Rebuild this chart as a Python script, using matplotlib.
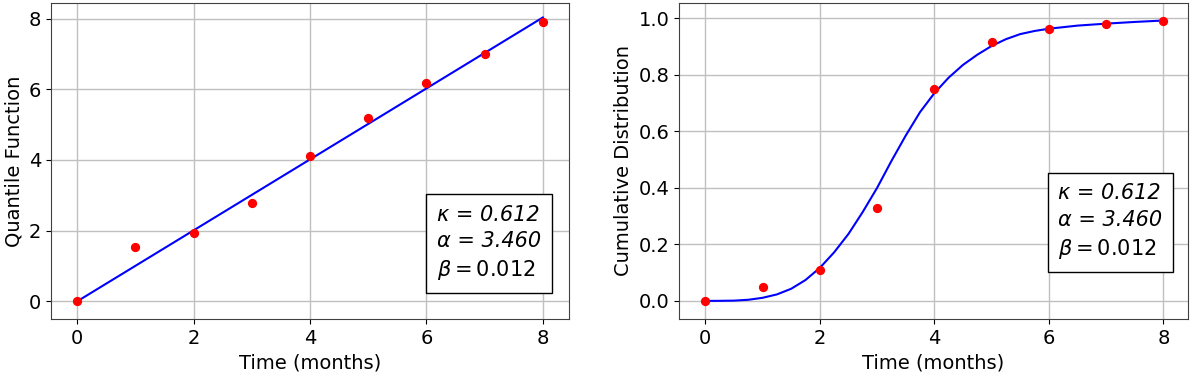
import matplotlib
matplotlib.use('Agg')
import matplotlib.pyplot as plt
from matplotlib.offsetbox import AnchoredOffsetbox, TextArea, VPacker

# data
months = [0, 1, 2, 3, 4, 5, 6, 7, 8]
quantile_obs = [0.0, 1.54, 1.92, 2.78, 4.10, 5.18, 6.17, 6.99, 7.91]
quantile_fit_t = [0, 8]
quantile_fit = [0.0, 8.03]

cdf_obs = [0.0, 0.048, 0.11, 0.33, 0.75, 0.916, 0.963, 0.98, 0.992]
cdf_fit_t = [0, 0.25, 0.5, 0.75, 1.0, 1.25, 1.5, 1.75, 2.0, 2.25, 2.5, 2.75,
             3.0, 3.25, 3.5, 3.75, 4.0, 4.25, 4.5, 4.75, 5.0, 5.25, 5.5,
             5.75, 6.0, 6.5, 7.0, 7.5, 8.0]
cdf_fit = [0.0, 0.0003, 0.001, 0.004, 0.011, 0.023, 0.043, 0.074, 0.117,
           0.172, 0.237, 0.315, 0.400, 0.495, 0.585, 0.668, 0.735, 0.790,
           0.835, 0.871, 0.902, 0.926, 0.944, 0.955, 0.963, 0.974, 0.981,
           0.987, 0.992]

param_lines = ['κ = 0.612', 'α = 3.460', '$\\beta = 0.012$']

plt.rcParams['font.size'] = 14


def param_box(ax, x, y):
    # κ and α lines in oblique, β in mathtext like the original
    rows = []
    for i, s in enumerate(param_lines):
        style = 'italic' if i < 2 else 'normal'
        rows.append(TextArea(s, textprops=dict(fontsize=15, fontstyle=style)))
    pack = VPacker(children=rows, align='left', pad=0, sep=5)
    box = AnchoredOffsetbox(loc='lower right', child=pack, pad=0.55,
                            borderpad=0, frameon=True,
                            bbox_to_anchor=(x, y),
                            bbox_transform=ax.transAxes)
    box.patch.set_boxstyle('square', pad=0)
    box.patch.set_edgecolor('black')
    box.patch.set_linewidth(1)
    box.zorder = 5
    ax.add_artist(box)


fig = plt.figure(figsize=(12, 3.73), dpi=100)
ax1 = fig.add_axes([51 / 1200, 1 - 319 / 373, 518 / 1200, 316 / 373])
ax2 = fig.add_axes([679 / 1200, 1 - 319 / 373, 509 / 1200, 316 / 373])

# quantile
ax1.plot(quantile_fit_t, quantile_fit, color='blue', lw=1.5, zorder=2)
ax1.scatter(months, quantile_obs, color='red', s=32, zorder=3)
ax1.set_xlim(-0.45, 8.45)
ax1.set_ylim(-0.5, 8.44)
ax1.set_xticks([0, 2, 4, 6, 8])
ax1.set_yticks([0, 2, 4, 6, 8])
ax1.set_xlabel('Time (months)')
ax1.set_ylabel('Quantile Function')
param_box(ax1, 0.967, 0.082)

# cdf
ax2.plot(cdf_fit_t, cdf_fit, color='blue', lw=1.5, zorder=2)
ax2.scatter(months, cdf_obs, color='red', s=32, zorder=3)
ax2.set_xlim(-0.46, 8.43)
ax2.set_ylim(-0.064, 1.054)
ax2.set_xticks([0, 2, 4, 6, 8])
ax2.set_yticks([0.0, 0.2, 0.4, 0.6, 0.8, 1.0])
ax2.set_xlabel('Time (months)')
ax2.set_ylabel('Cumulative Distribution')
param_box(ax2, 0.971, 0.149)

for ax in (ax1, ax2):
    ax.grid(True, color='#c0c0c0', lw=1)
    ax.set_axisbelow(True)
    for sp in ax.spines.values():
        sp.set_color('#404040')

fig.savefig('out.png', dpi=100)
